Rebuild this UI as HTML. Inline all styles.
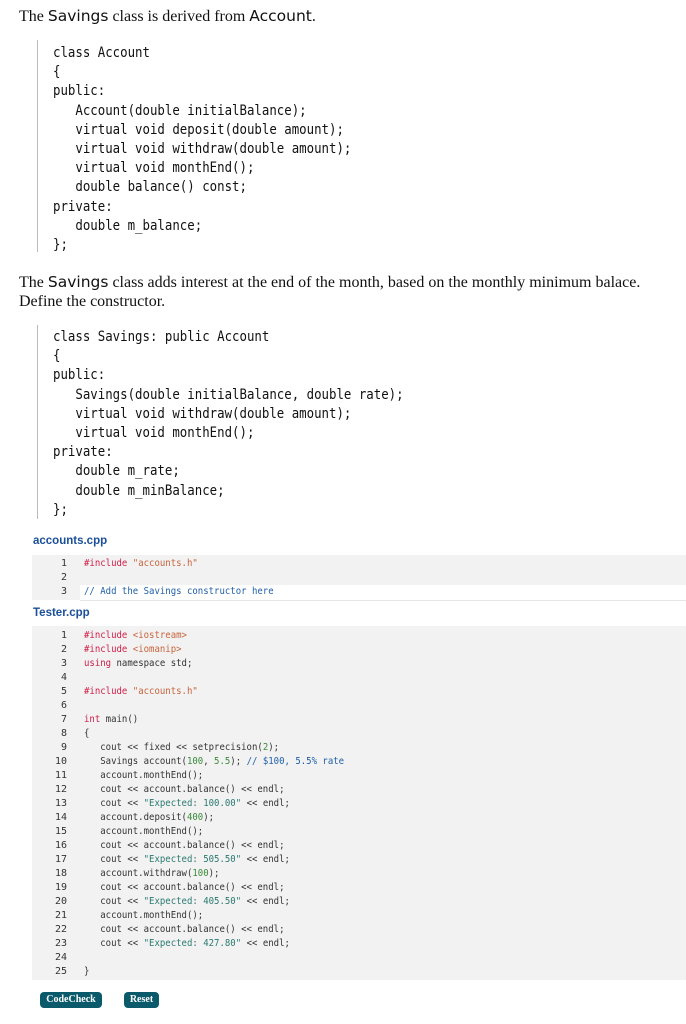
<!DOCTYPE html><html><head><meta charset="utf-8"><style>
body{margin:0;width:686px;height:1024px;background:#fff;position:relative;overflow:hidden;font-family:"Liberation Serif",serif;color:#111}
.a{position:absolute;white-space:pre}
.p{font-size:16px;line-height:19px}
.s{font-family:"DejaVu Sans",sans-serif;font-size:15.5px}
.c{font-family:"DejaVu Sans Mono",monospace;font-size:14px;line-height:19.2px;color:#111;transform:scaleX(0.885);transform-origin:0 0}
.bar{position:absolute;left:37px;width:1px;background:#bbb}
.h{font-family:"Liberation Sans",sans-serif;font-weight:bold;font-size:11.5px;color:#1a4f9a}
.k{font-family:"DejaVu Sans Mono",monospace;font-size:10px;line-height:14px;color:#333}
.kc{transform:scaleX(0.9);transform-origin:0 0}
.n{text-align:right;width:14px;left:53px}
.r{color:#d0204a}.o{color:#c8643c}.b{color:#1f5fa8}.g{color:#3a8a3a}.t{color:#2a7a70}
.btn{position:absolute;top:992px;height:16px;background:#0b5a6c;color:#fff;border-radius:4px;font-family:"Liberation Serif",serif;font-weight:bold;font-size:10px;line-height:16px;text-align:center}
</style></head><body>
<div class="a p" style="left:19px;top:7px">The <span class="s">Savings</span> class is derived from <span class="s">Account</span>.</div>
<div class="bar" style="top:40px;height:212px"></div>
<div class="a c" style="left:53px;top:44px">class Account
{
public:
   Account(double initialBalance);
   virtual void deposit(double amount);
   virtual void withdraw(double amount);
   virtual void monthEnd();
   double balance() const;
private:
   double m_balance;
};</div>
<div class="a p" style="left:19px;top:273px">The <span class="s">Savings</span> class adds interest at the end of the month, based on the monthly minimum balace.
Define the constructor.</div>
<div class="bar" style="top:325px;height:194px"></div>
<div class="a c" style="left:53px;top:328px">class Savings: public Account
{
public:
   Savings(double initialBalance, double rate);
   virtual void withdraw(double amount);
   virtual void monthEnd();
private:
   double m_rate;
   double m_minBalance;
};</div>
<div class="a h" style="left:33px;top:535px">accounts.cpp</div>
<div class="a" style="left:32px;top:555px;width:654px;height:30px;background:#f2f2f2"></div>
<div class="a" style="left:32px;top:585px;width:654px;height:15px;background:#f2f2f2"></div>
<div class="a" style="left:80px;top:585px;width:606px;height:15px;background:#fff;border-bottom:1px solid #e6e6e6"></div>
<div class="a k n" style="top:557px">1
2
3</div>
<div class="a k kc" style="left:84px;top:557px"><span class="r">#include</span> <span class="o">"accounts.h"</span>

<span class="b">// Add the Savings constructor here</span></div>
<div class="a h" style="left:33px;top:607px">Tester.cpp</div>
<div class="a" style="left:32px;top:626px;width:654px;height:354px;background:#f2f2f2"></div>
<div class="a k n" style="top:629px;left:51px;width:16px">1
2
3
4
5
6
7
8
9
10
11
12
13
14
15
16
17
18
19
20
21
22
23
24
25</div>
<div class="a k kc" style="left:84px;top:629px"><span class="r">#include</span> <span class="o">&lt;iostream&gt;</span>
<span class="r">#include</span> <span class="o">&lt;iomanip&gt;</span>
<span class="r">using</span> namespace std;

<span class="r">#include</span> <span class="o">"accounts.h"</span>

<span class="r">int</span> main()
{
   cout &lt;&lt; fixed &lt;&lt; setprecision(<span class="g">2</span>);
   Savings account(<span class="g">100</span>, <span class="g">5.5</span>); <span class="b">// $100, 5.5% rate</span>
   account.monthEnd();
   cout &lt;&lt; account.balance() &lt;&lt; endl;
   cout &lt;&lt; <span class="t">"Expected: 100.00"</span> &lt;&lt; endl;
   account.deposit(<span class="g">400</span>);
   account.monthEnd();
   cout &lt;&lt; account.balance() &lt;&lt; endl;
   cout &lt;&lt; <span class="t">"Expected: 505.50"</span> &lt;&lt; endl;
   account.withdraw(<span class="g">100</span>);
   cout &lt;&lt; account.balance() &lt;&lt; endl;
   cout &lt;&lt; <span class="t">"Expected: 405.50"</span> &lt;&lt; endl;
   account.monthEnd();
   cout &lt;&lt; account.balance() &lt;&lt; endl;
   cout &lt;&lt; <span class="t">"Expected: 427.80"</span> &lt;&lt; endl;

}</div>
<div class="btn" style="left:40px;width:62px">CodeCheck</div>
<div class="btn" style="left:124px;width:35px">Reset</div>
</body></html>
